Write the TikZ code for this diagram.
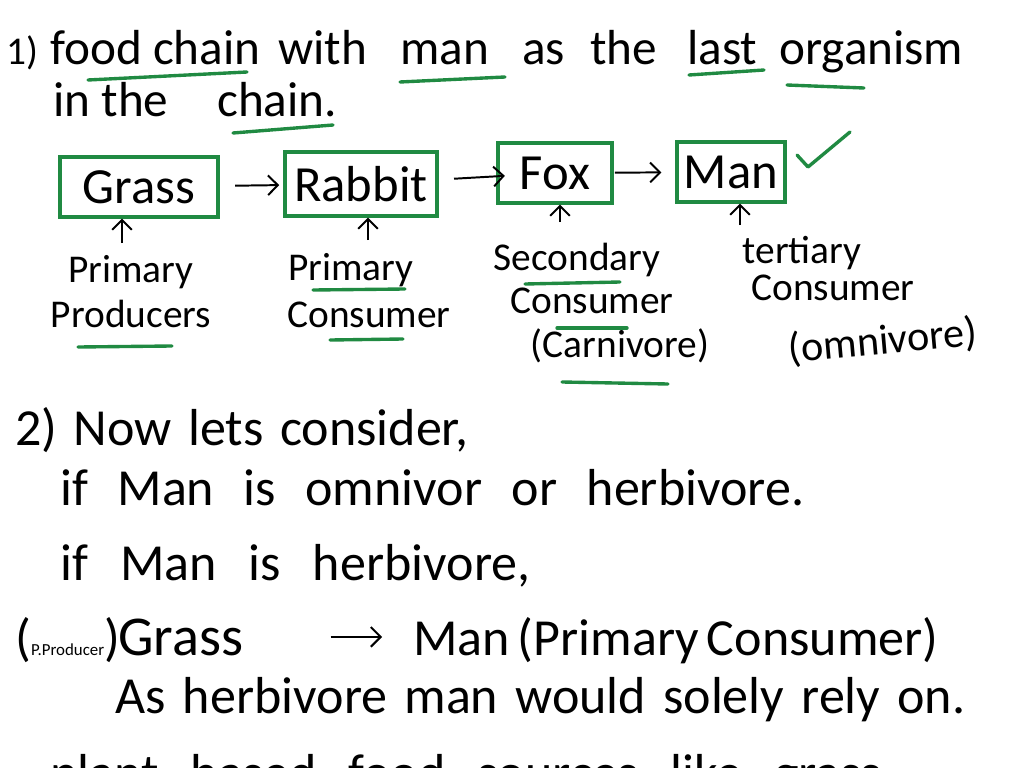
\documentclass[tikz,border=0pt]{standalone}
\usepackage{fontspec}
\setmainfont{Carlito}
\usetikzlibrary{positioning,arrows.meta}
\definecolor{pengreen}{RGB}{32,138,66}
\newcommand{\spreadline}[2]{\makebox[#1][s]{#2}}
\tikzset{
  hand/.style={font=\fontsize{37}{40}\selectfont,inner sep=0pt,anchor=base west},
  tag/.style={font=\fontsize{28}{32}\selectfont,inner sep=0pt,anchor=base},
  organism/.style={draw=pengreen,line width=2.2pt,inner sep=0pt,font=\fontsize{36}{40}\selectfont},
  feeds/.style={-{Straight Barb[length=7pt,width=14pt]},line width=1.4pt},
  stress/.style={pengreen,line width=2.4pt,line cap=round,line join=round}
}

\begin{document}
\begin{tikzpicture}[x=0.025cm,y=-0.025cm]
  \useasboundingbox (0,0) rectangle (1024,768);
  \clip (0,0) rectangle (1024,768);

  \node[hand,font=\fontsize{28}{32}\selectfont] (head0) at (6,65) {1)};
  \foreach \word/\xpos [count=\i] in {food chain/50,with/278,man/400,as/522,the/590,last/687,organism/779}
    \node[hand,font=\fontsize{35}{40}\selectfont] (head\i) at (\xpos,65) {\word};
  \node[hand,font=\fontsize{35}{40}\selectfont] (tail1) at (53,117) {in the};
  \node[hand,font=\fontsize{35}{40}\selectfont] (tail2) at (217,117) {chain.};
  \draw[stress] (88,80) -- (247,72);
  \draw[stress] (400,82) -- (505,77);
  \draw[stress] (689,75) -- (764,70);
  \draw[stress] (787,85) -- (864,88);
  \draw[stress] (233,133) -- (333,125);

  \node[organism,minimum width=3.95cm,minimum height=1.5cm] (grass) at (139,187) {Grass};
  \node[organism,minimum width=3.8cm,minimum height=1.6cm] (rabbit) at (361,184) {Rabbit};
  \node[organism,minimum width=2.85cm,minimum height=1.5cm] (fox) at (555,173) {Fox};
  \node[organism,minimum width=2.7cm,minimum height=1.5cm] (man) at (731,172) {Man};

  \draw[feeds,shorten <=11pt,shorten >=3pt] (grass) -- (rabbit);
  \draw[feeds,shorten <=11pt,shorten >=-6pt] (rabbit) -- (fox);
  \draw[feeds,shorten <=1pt,shorten >=10pt] (fox) -- (man);

  \draw[stress] (797,155) -- (808,167) -- (850,132);

  \node[tag] (g1) at (131,282) {Primary};
  \node[tag] (g2) at (131,327) {Producers};
  \node[tag] (r1) at (351,280) {Primary};
  \node[tag] (r2) at (369,327) {Consumer};
  \node[tag] (f1) at (577,270) {Secondary};
  \node[tag] (f2) at (592,313) {Consumer};
  \node[tag] (f3) at (620,357) {(Carnivore)};
  \node[tag] (m1) at (802,263) {tertiary};
  \node[tag] (m2) at (833,300) {Consumer};
  \node[tag,rotate=5,font=\fontsize{30}{34}\selectfont] (m3) at (884,354) {(omnivore)};

  \coordinate (u1) at (122,243);
  \coordinate (u2) at (368,240);
  \coordinate (u3) at (560,222);
  \coordinate (u4) at (740,225);
  \draw[feeds] (u1) -- (u1 |- grass.south);
  \draw[feeds] (u2) -- (u2 |- rabbit.south);
  \draw[feeds] (u3) -- (u3 |- fox.south);
  \draw[feeds] (u4) -- (u4 |- man.south);

  \draw[stress] (78,347) -- (172,346);
  \draw[stress] (313,290) -- (405,289);
  \draw[stress] (330,340) -- (403,339);
  \draw[stress] (525,284) -- (620,282);
  \draw[stress] (557,328) -- (627,328);
  \draw[stress] (562,382) -- (668,384);

  \node[hand] (s1) at (15,445) {\spreadline{11.33cm}{2) Now lets consider,}};
  \node[hand] (s2) at (60,505) {\spreadline{18.6cm}{if Man is omnivor or herbivore.}};
  \node[hand] (s3) at (60,580) {\spreadline{11.75cm}{if Man is herbivore,}};
  \node[hand] (pp) at (15,655) {({\fontsize{12}{14}\selectfont P.Producer})};
  \node[hand,font=\fontsize{40}{44}\selectfont] (gr) at (118,655) {Grass};
  \node[hand] (mc) at (413,655) {\spreadline{12.5cm}{Man (Primary Consumer)}};
  \draw[feeds,shorten <=62pt,shorten >=22pt] (gr.east) -- (gr.east -| mc.west);
  \node[hand] (s4) at (115,713) {\spreadline{21.25cm}{As herbivore man would solely rely on.}};
  \node[hand] (s5) at (50,790) {\spreadline{21.1cm}{plant based food sources like grass.}};
\end{tikzpicture}
\end{document}
